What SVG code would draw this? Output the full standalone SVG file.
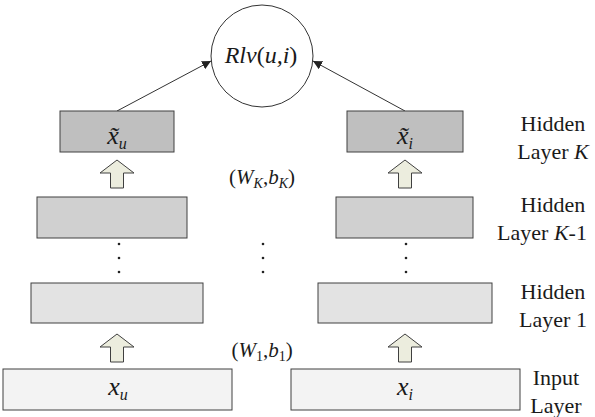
<svg xmlns="http://www.w3.org/2000/svg" width="595" height="417" viewBox="0 0 595 417" font-family="Liberation Serif, Times New Roman, Times, Tinos, Noto Serif, DejaVu Serif, FreeSerif, serif">
<defs>
<style>
text{fill:#1a1a1a}
.i{font-style:italic}
.box{stroke:#404040;stroke-width:1}
.blk{fill:#ecedde;stroke:#404040;stroke-width:1}
.ln{stroke:#333;stroke-width:1;fill:none}
.lab{font-size:22px;text-anchor:middle}
.dot{fill:#222}
</style>
<marker id="ah" viewBox="0 0 10 10" refX="10" refY="5" markerWidth="9" markerHeight="9" orient="auto" markerUnits="userSpaceOnUse"><path d="M0,0 L10,5 L0,10 z" fill="#222"/></marker>
</defs>
<rect width="595" height="417" fill="#fff"/>

<g id="connectors">
<line class="ln" x1="117" y1="111" x2="211" y2="61" marker-end="url(#ah)"/>
<line class="ln" x1="405" y1="111" x2="313" y2="61" marker-end="url(#ah)"/>
<path class="blk" d="M117,160 L134,173 L123.5,173 L123.5,188 L110.5,188 L110.5,173 L100,173 Z"/>
<path class="blk" d="M405,160 L422,173 L411.5,173 L411.5,188 L398.5,188 L398.5,173 L388,173 Z"/>
<path class="blk" d="M117,334 L134,347 L123.5,347 L123.5,362 L110.5,362 L110.5,347 L100,347 Z"/>
<path class="blk" d="M405,334 L422,347 L411.5,347 L411.5,362 L398.5,362 L398.5,347 L388,347 Z"/>
</g>

<g id="rlv">
<circle cx="262" cy="56" r="51" fill="#fff" stroke="#333" stroke-width="1"/>
<text class="i" x="261" y="63" font-size="24" text-anchor="middle">Rlv<tspan font-style="normal">(</tspan>u,i<tspan font-style="normal">)</tspan></text>
</g>

<g id="xu-tilde">
<rect class="box" x="60" y="111" width="114" height="41" fill="#bfbfbf"/>
<text class="i" x="117" y="144" font-size="26" text-anchor="middle">x&#x303;<tspan font-size="16" dy="5">u</tspan></text>
</g>
<g id="xi-tilde">
<rect class="box" x="347" y="111" width="116" height="41" fill="#bfbfbf"/>
<text class="i" x="405" y="144" font-size="26" text-anchor="middle">x&#x303;<tspan font-size="16" dy="5">i</tspan></text>
</g>

<g id="hk1-left"><rect class="box" x="37" y="197" width="150" height="41" fill="#d0d0d0"/></g>
<g id="hk1-right"><rect class="box" x="336" y="197" width="137" height="41" fill="#d0d0d0"/></g>

<g id="dots">
<circle class="dot" cx="119" cy="244" r="1.3"/><circle class="dot" cx="119" cy="258" r="1.3"/><circle class="dot" cx="119" cy="272" r="1.3"/>
<circle class="dot" cx="263" cy="244" r="1.3"/><circle class="dot" cx="263" cy="258" r="1.3"/><circle class="dot" cx="263" cy="272" r="1.3"/>
<circle class="dot" cx="406" cy="244" r="1.3"/><circle class="dot" cx="406" cy="258" r="1.3"/><circle class="dot" cx="406" cy="272" r="1.3"/>
</g>

<g id="h1-left"><rect class="box" x="31" y="283" width="172" height="40" fill="#e3e3e3"/></g>
<g id="h1-right"><rect class="box" x="318" y="283" width="174" height="40" fill="#e3e3e3"/></g>

<g id="xu">
<rect class="box" x="3" y="369" width="229" height="41" fill="#f3f3f3"/>
<text class="i" x="118" y="395" font-size="26" text-anchor="middle">x<tspan font-size="16" dy="5">u</tspan></text>
</g>
<g id="xi">
<rect class="box" x="291" y="369" width="229" height="41" fill="#f3f3f3"/>
<text class="i" x="405" y="395" font-size="26" text-anchor="middle">x<tspan font-size="16" dy="5">i</tspan></text>
</g>

<g id="params">
<text x="262" y="184" font-size="21" text-anchor="middle">(<tspan font-style="italic">W</tspan><tspan font-style="italic" font-size="14" dy="4">K</tspan><tspan dy="-4">,</tspan><tspan font-style="italic">b</tspan><tspan font-style="italic" font-size="14" dy="4">K</tspan><tspan dy="-4">)</tspan></text>
<text x="262" y="357" font-size="21" text-anchor="middle">(<tspan font-style="italic">W</tspan><tspan font-size="14" dy="4">1</tspan><tspan dy="-4">,</tspan><tspan font-style="italic">b</tspan><tspan font-size="14" dy="4">1</tspan><tspan dy="-4">)</tspan></text>
</g>

<g id="layer-labels">
<text class="lab" x="553" y="131">Hidden</text>
<text class="lab" x="553" y="159">Layer <tspan font-style="italic">K</tspan></text>
<text class="lab" x="553" y="212">Hidden</text>
<text class="lab" x="542" y="240">Layer <tspan font-style="italic">K</tspan>-1</text>
<text class="lab" x="553" y="299">Hidden</text>
<text class="lab" x="553" y="327">Layer 1</text>
<text class="lab" x="556" y="385">Input</text>
<text class="lab" x="556" y="413">Layer</text>
</g>
</svg>
